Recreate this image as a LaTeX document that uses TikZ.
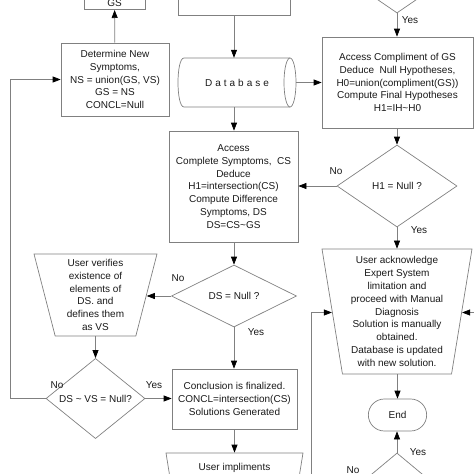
\documentclass[tikz,border=0pt]{standalone}
\usepackage{fontspec}
\setmainfont{Liberation Sans}
\usetikzlibrary{shapes.geometric,shapes.misc,arrows.meta,calc}
\definecolor{linegray}{RGB}{128,128,128}
\definecolor{txt}{RGB}{25,25,25}
\begin{document}
\begin{tikzpicture}[x=1pt,y=-1pt,
  font=\fontsize{10}{12.8}\selectfont,
  ln/.style={draw=linegray, line width=0.7pt},
  arr/.style={ln, -{Triangle[length=8pt,width=6pt,color=black]}},
  box/.style={rectangle, ln, align=center, text=txt, inner sep=2pt},
  dia/.style={diamond, ln, align=center, text=txt, inner sep=0pt},
  trap/.style={trapezium, ln, align=center, text=txt, inner sep=2pt,
    trapezium stretches body, shape border rotate=180},
  lbl/.style={text=txt, inner sep=0pt},
]
\useasboundingbox (0,0) rectangle (474,474);
\clip (0,0) rectangle (474,474);

% top partial elements
\node[box, minimum width=61, minimum height=40, anchor=south] (gs) at (114.5,10) {};
\node[lbl] (gst) at (114.5,3) {GS};
\node[box, minimum width=112, minimum height=60, anchor=south] (top) at (234,16) {};
\node[dia, minimum width=120, minimum height=82] (topd) at (397,-28) {};

% left column
\node[box, minimum width=108, minimum height=73] (det) at (115,79.5)
  {Determine New\\Symptoms,\\NS = union(GS, VS)\\GS = NS\\CONCL=Null};
\node[trap, trapezium left angle=74.3, trapezium right angle=74.3,
  minimum width=123, minimum height=82] (ver) at (95.5,295)
  {User verifies\\existence of\\elements of\\DS. and\\defines them\\as VS};
\node[dia, minimum width=99, minimum height=72] (dsvs) at (95.5,398.5) {DS \char`\~{} VS = Null?};

% centre column: database (horizontal cylinder)
\node[rectangle, text=txt, minimum width=118, minimum height=49, inner sep=0pt] (db) at (237,82.5)
  {\addfontfeature{LetterSpace=30}Database};
\draw[ln] (290,58) -- (184,58) .. controls (176,58) and (176,107) .. (184,107) -- (290,107);
\draw[ln] (290,82.5) ellipse [x radius=6, y radius=24.5];

\node[box, minimum width=129, minimum height=111] (acc) at (233.5,186.5)
  {Access\\Complete Symptoms,~ CS\\Deduce\\H1=intersection(CS)\\Compute Difference\\Symptoms, DS\\DS=CS\char`\~{}GS};
\node[dia, minimum width=125, minimum height=62] (ds) at (234,296) {DS = Null ?};
\node[box, minimum width=125, minimum height=60] (concl) at (234.5,399)
  {Conclusion is finalized.\\CONCL=intersection(CS)\\Solutions Generated};
\node[trap, trapezium left angle=70, trapezium right angle=70,
  minimum width=137, minimum height=30] (impl) at (234.5,468) {User impliments};

% right column
\node[box, minimum width=151, minimum height=91] (comp) at (397.5,82.5)
  {Access Compliment of GS\\Deduce~ Null Hypotheses,\\H0=union(compliment(GS))\\Compute Final Hypotheses\\H1=IH\char`\~{}H0};
\node[dia, minimum width=120, minimum height=82] (h1) at (397,186) {H1 = Null ?};
\node[trap, trapezium left angle=79.8, trapezium right angle=79.8,
  minimum width=150, minimum height=125] (ack) at (397,311.5)
  {User acknowledge\\Expert System\\limitation and\\proceed with Manual\\Diagnosis\\Solution is manually\\obtained.\\Database is updated\\with new solution.};
\node[rounded rectangle, ln, text=txt, minimum width=65, minimum height=32] (end) at (397.5,415) {End};
\node[dia, minimum width=108, minimum height=90] (bd) at (397,498) {};

\coordinate (jl) at (311,312.5);
\coordinate (rin) at (495,312.5);

% connectors
\draw[arr] (det) -- (gs);
\draw[arr] (dsvs.west) -| (10,79.5) -- (det.west);
\draw[arr] (top.south) -- (top.south |- db.north);
\draw[arr] (db.east) -- (comp.west);
\draw[arr] (db.south -| top.south) -- (acc.north -| top.south);
\draw[arr] (h1.west) -- (acc.east |- h1.west);
\draw[arr] (acc.south -| ds.north) -- (ds.north);
\draw[arr] (ds.west) -- (ver.east |- ds.west);
\draw[arr] (ver.south -| dsvs.north) -- (dsvs.north);
\draw[arr] (dsvs.east) -- (concl.west |- dsvs.east);
\draw[arr] (ds.south) -- (concl.north -| ds.south);
\draw[arr] (concl.south) -- (impl.north);
\draw[arr] (topd.south) -- (comp.north -| topd.south);
\draw[arr] (comp.south -| h1.north) -- (h1.north);
\draw[arr] (h1.south) -- (ack.north -| h1.south);
\draw[arr] (ack.south -| end.north) -- (end.north);
\draw[arr] (bd.north) -- (end.south -| bd.north);
\draw[arr] (bd.west) -| (jl) -- (jl -| ack.west);
\draw[arr] (rin) -- (rin -| ack.east);

% labels
\node[lbl] (l1) at (410,20) {Yes};
\node[lbl] (l2) at (336,171) {No};
\node[lbl] (l3) at (419,230) {Yes};
\node[lbl] (l4) at (178,278) {No};
\node[lbl] (l5) at (256,332) {Yes};
\node[lbl] (l6) at (57,385) {No};
\node[lbl] (l7) at (154,385) {Yes};
\node[lbl] (l8) at (418,452) {Yes};
\node[lbl] (l9) at (353,470) {No};
\end{tikzpicture}
\end{document}
